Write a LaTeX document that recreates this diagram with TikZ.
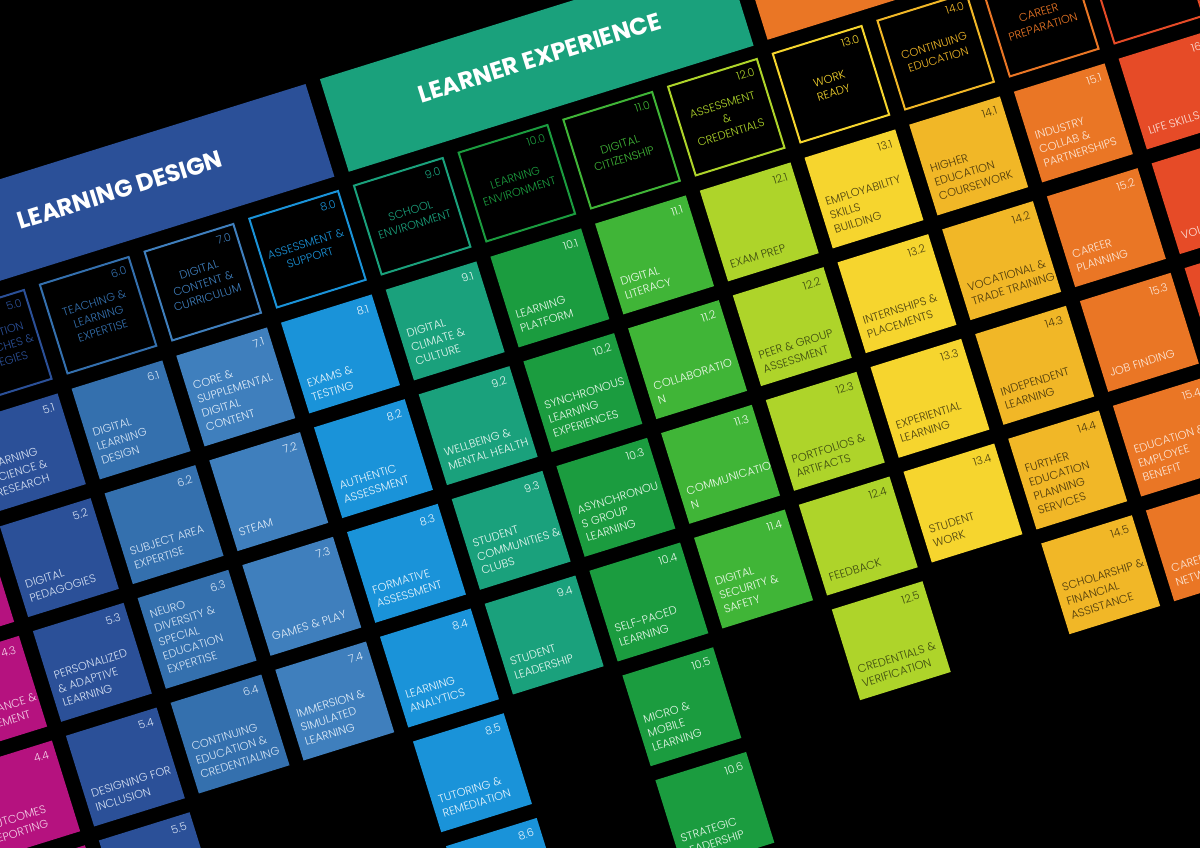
\documentclass[tikz,border=0pt]{standalone}
\usepackage{fontspec}
\setmainfont{Poppins}[UprightFont=* Light,BoldFont=* Bold]
\definecolor{c4}{HTML}{B5127F}\definecolor{t4}{HTML}{F3CFE6}
\definecolor{c5}{HTML}{2B5098}\definecolor{t5}{HTML}{D5E0F2}
\definecolor{c6}{HTML}{3470AE}\definecolor{t6}{HTML}{D5E4F5}
\definecolor{c7}{HTML}{3F7FBD}\definecolor{t7}{HTML}{E0ECF8}
\definecolor{c8}{HTML}{1A93D9}\definecolor{t8}{HTML}{E6F4FC}
\definecolor{c9}{HTML}{1AA17C}\definecolor{t9}{HTML}{E4F6F0}
\definecolor{c10}{HTML}{1B9C3F}\definecolor{t10}{HTML}{E4F6E8}
\definecolor{c11}{HTML}{40B537}\definecolor{t11}{HTML}{EDF9EB}
\definecolor{c12}{HTML}{AED42A}\definecolor{t12}{HTML}{3D4A10}
\definecolor{c13}{HTML}{F6D52E}\definecolor{t13}{HTML}{4D4210}
\definecolor{c14}{HTML}{F1B727}\definecolor{t14}{HTML}{4D3A0C}
\definecolor{c15}{HTML}{EA7625}\definecolor{t15}{HTML}{FCE6D6}
\definecolor{c16}{HTML}{E64B27}\definecolor{t16}{HTML}{FCE0D8}
\tikzset{
  gridat/.style 2 args={shift={({248+(#1-8)*104.7+#2*33},{848-(218-(#1-8)*33+#2*104.7)})},rotate=17.3,transform shape},
  tilebox/.style={rectangle,inner sep=0pt,minimum size=95pt,fill=#1},
  hdrbox/.style={rectangle,inner sep=0pt,minimum size=93pt,draw=#1,line width=2pt,fill=black},
  banner/.style={rectangle,inner sep=0pt,minimum height=97pt,fill=#1},
  bannertext/.style={text=white,font=\fontsize{24}{26}\selectfont\bfseries},
  numtext/.style={inner sep=0pt,anchor=north east,font=\fontsize{11}{13}\selectfont},
  bodytext/.style={inner sep=0pt,anchor=south west,align=left,font=\fontsize{11.3}{14.6}\selectfont},
  headtext/.style={inner sep=0pt,align=center,font=\fontsize{11.3}{14.6}\selectfont},
}
% \tl{col}{row}{dx}{dy}{text}
\newcommand{\tl}[5]{%
  \begin{scope}[gridat={#1}{#2}]
    \node[tilebox=c#1] (t#1-#2) at (47.5,-47.5) {};
    \node[numtext,text=t#1] (n#1-#2) at (88,-8) {#1.#2};
    \node[bodytext,text=t#1] (b#1-#2) at ({7+#3},{-82+#4}) {#5};
  \end{scope}}
% \hd{col}{dy}{text}
\newcommand{\hd}[3]{%
  \begin{scope}[gridat={#1}{0}]
    \node[hdrbox=c#1] (t#1-0) at (47.5,-47.5) {};
    \node[numtext,text=c#1] (n#1-0) at (88,-8) {#1.0};
    \node[headtext,text=c#1] (b#1-0) at (47.5,{-49+#2}) {#3};
  \end{scope}}
\begin{document}
\begin{tikzpicture}[x=1pt,y=1pt]
\useasboundingbox (0,0) rectangle (1200,848);
\fill[black] (0,0) rectangle (1200,848);
\clip (0,0) rectangle (1200,848);
% banners
\begin{scope}[gridat={8}{0}]
  \node[banner=c5,minimum width=700pt,anchor=south east] (bLD) at (95,13.6) {};
  \node[bannertext] (tLD) at (-114,65) {LEARNING DESIGN};
\end{scope}
\begin{scope}[gridat={9}{0}]
  \node[banner=c9,minimum width=424pt,anchor=south west] (bLE) at (0,13.6) {};
  \node[bannertext] (tLE) at (216,66) {LEARNER EXPERIENCE};
\end{scope}
\begin{scope}[gridat={13}{0}]
  \node[banner=c15,minimum width=424pt,anchor=south west] (bWF) at (0,13.6) {};
\end{scope}
% column 4
\tl{4}{2}{0}{0}{}
\tl{4}{3}{0}{0}{GOVERNANCE \&\\MANAGEMENT}
\tl{4}{4}{0}{0}{OUTCOMES\\REPORTING}
\tl{4}{5}{0}{0}{}
% column 5
\hd{5}{0}{INSTRUCTION\\APPROACHES \&\\STRATEGIES}
\tl{5}{1}{0}{0}{LEARNING\\SCIENCE \&\\RESEARCH}
\tl{5}{2}{0}{0}{DIGITAL\\PEDAGOGIES}
\tl{5}{3}{0}{0}{PERSONALIZED\\\& ADAPTIVE\\LEARNING}
\tl{5}{4}{0}{0}{DESIGNING FOR\\INCLUSION}
\tl{5}{5}{0}{0}{}
% column 6
\hd{6}{0}{TEACHING \&\\LEARNING\\EXPERTISE}
\tl{6}{1}{0}{0}{DIGITAL\\LEARNING\\DESIGN}
\tl{6}{2}{0}{0}{SUBJECT AREA\\EXPERTISE}
\tl{6}{3}{0}{0}{NEURO\\DIVERSITY \&\\SPECIAL\\EDUCATION\\EXPERTISE}
\tl{6}{4}{0}{0}{CONTINUING\\EDUCATION \&\\CREDENTIALING}
% column 7
\hd{7}{0}{DIGITAL\\CONTENT \&\\CURRICULUM}
\tl{7}{1}{0}{0}{CORE \&\\SUPPLEMENTAL\\DIGITAL\\CONTENT}
\tl{7}{2}{0}{0}{STEAM}
\tl{7}{3}{0}{0}{GAMES \& PLAY}
\tl{7}{4}{0}{0}{IMMERSION \&\\SIMULATED\\LEARNING}
% column 8
\hd{8}{0}{ASSESSMENT \&\\SUPPORT}
\tl{8}{1}{0}{-3}{EXAMS \&\\TESTING}
\tl{8}{2}{0}{0}{AUTHENTIC\\ASSESSMENT}
\tl{8}{3}{0}{0}{FORMATIVE\\ASSESSMENT}
\tl{8}{4}{0}{0}{LEARNING\\ANALYTICS}
\tl{8}{5}{0}{0}{TUTORING \&\\REMEDIATION}
\tl{8}{6}{0}{0}{}
% column 9
\hd{9}{0}{SCHOOL\\ENVIRONMENT}
\tl{9}{1}{0}{0}{DIGITAL\\CLIMATE \&\\CULTURE}
\tl{9}{2}{0}{0}{WELLBEING \&\\MENTAL HEALTH}
\tl{9}{3}{0}{0}{STUDENT\\COMMUNITIES \&\\CLUBS}
\tl{9}{4}{0}{0}{STUDENT\\LEADERSHIP}
% column 10
\hd{10}{0}{LEARNING\\ENVIRONMENT}
\tl{10}{1}{0}{0}{LEARNING\\PLATFORM}
\tl{10}{2}{0}{0}{SYNCHRONOUS\\LEARNING\\EXPERIENCES}
\tl{10}{3}{0}{0}{ASYNCHRONOU\\S GROUP\\LEARNING}
\tl{10}{4}{0}{0}{SELF-PACED\\LEARNING}
\tl{10}{5}{0}{0}{MICRO \&\\MOBILE\\LEARNING}
\tl{10}{6}{0}{0}{STRATEGIC\\LEADERSHIP}
% column 11
\hd{11}{0}{DIGITAL\\CITIZENSHIP}
\tl{11}{1}{0}{0}{DIGITAL\\LITERACY}
\tl{11}{2}{0}{0}{COLLABORATIO\\N}
\tl{11}{3}{0}{0}{COMMUNICATIO\\N}
\tl{11}{4}{0}{0}{DIGITAL\\SECURITY \&\\SAFETY}
% column 12
\hd{12}{0}{ASSESSMENT\\\&\\CREDENTIALS}
\tl{12}{1}{0}{-2}{EXAM PREP}
\tl{12}{2}{0}{-2}{PEER \& GROUP\\ASSESSMENT}
\tl{12}{3}{0}{-2}{PORTFOLIOS \&\\ARTIFACTS}
\tl{12}{4}{0}{-1}{FEEDBACK}
\tl{12}{5}{0}{-2}{CREDENTIALS \&\\VERIFICATION}
% column 13
\hd{13}{0}{WORK\\READY}
\tl{13}{1}{0}{0}{EMPLOYABILITY\\SKILLS\\BUILDING}
\tl{13}{2}{0}{0}{INTERNSHIPS \&\\PLACEMENTS}
\tl{13}{3}{0}{0}{EXPERIENTIAL\\LEARNING}
\tl{13}{4}{0}{0}{STUDENT\\WORK}
% column 14
\hd{14}{0}{CONTINUING\\EDUCATION}
\tl{14}{1}{0}{0}{HIGHER\\EDUCATION\\COURSEWORK}
\tl{14}{2}{0}{0}{VOCATIONAL \&\\TRADE TRAINING}
\tl{14}{3}{0}{0}{INDEPENDENT\\LEARNING}
\tl{14}{4}{0}{0}{FURTHER\\EDUCATION\\PLANNING\\SERVICES}
\tl{14}{5}{0}{0}{SCHOLARSHIP \&\\FINANCIAL\\ASSISTANCE}
% column 15
\hd{15}{0}{CAREER\\PREPARATION}
\tl{15}{1}{0}{0}{INDUSTRY\\COLLAB \&\\PARTNERSHIPS}
\tl{15}{2}{0}{0}{CAREER\\PLANNING}
\tl{15}{3}{0}{0}{JOB FINDING}
\tl{15}{4}{0}{0}{EDUCATION \&\\EMPLOYEE\\BENEFIT}
\tl{15}{5}{0}{0}{CAREER\\NETWORK}
% column 16
\hd{16}{0}{}
\tl{16}{1}{0}{0}{LIFE SKILLS}
\tl{16}{2}{0}{0}{VOLUNTEERING}
\tl{16}{3}{0}{0}{}
\end{tikzpicture}
\end{document}
